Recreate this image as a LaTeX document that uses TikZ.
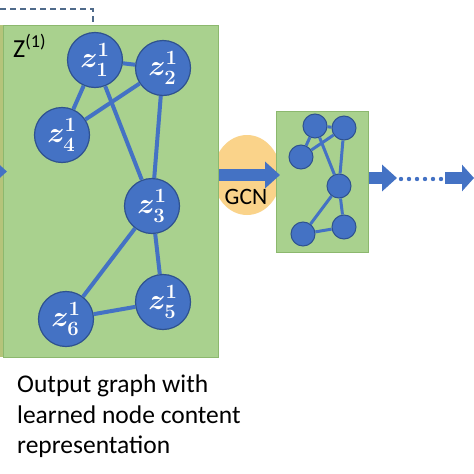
\RequirePackage{fix-cm}
\documentclass[tikz,border=0pt]{standalone}
\usepackage{fontspec}
\setmainfont{Carlito}
\usetikzlibrary{arrows.meta,shapes.geometric}
\definecolor{gfill}{HTML}{A9D18E}
\definecolor{gline}{HTML}{8CB86E}
\definecolor{nblue}{HTML}{4472C4}
\definecolor{nborder}{HTML}{2F528F}
\definecolor{orng}{HTML}{FAD38A}
\definecolor{dashc}{HTML}{4F6A8A}
\definecolor{edgeol}{HTML}{B5C47A}
\begin{document}
\begin{tikzpicture}[x=1pt,y=-1pt,
 bignode/.style={circle,fill=nblue,draw=nborder,line width=1.2pt,minimum size=55pt,inner sep=0pt,text=white,font=\fontsize{29}{29}\selectfont\boldmath},
 smallnode/.style={circle,fill=nblue,draw=nborder,line width=1pt,minimum size=24pt,inner sep=0pt},
 bigedge/.style={nblue,line width=4pt},
 smalledge/.style={nblue,line width=3pt},
 panel/.style={rectangle,fill=gfill,draw=gline,line width=1pt,inner sep=0pt,anchor=north west},
 fatarrow/.style={nblue,line width=12pt,-{Triangle[length=15pt,width=26pt]}},
 bodytext/.style={anchor=base west,inner sep=0pt,font=\fontsize{25.5}{25.5}\selectfont}]
\useasboundingbox (0,0) rectangle (474,474);
\clip (0,0) rectangle (474,474);
\fill[white] (0,0) rectangle (474,474);

% GCN background
\node[ellipse,fill=orng,minimum width=68pt,minimum height=80pt,inner sep=0pt] (gcnbg) at (247,175) {};

% panels
\fill[edgeol] (0,25) rectangle (3,357);
\node[panel,minimum width=215pt,minimum height=332pt] (main) at (3,25) {};
\node[panel,minimum width=92pt,minimum height=141pt] (small) at (276,111) {};

% dashed line
\coordinate (dstart) at (0,9);
\coordinate (dcorner) at (93,9);
\draw[dashc,line width=1.3pt,dash pattern=on 6pt off 4pt] (dstart) -- (dcorner) -- (dcorner |- main.north);

% left arrow entering
\coordinate (lin) at (-30,171.5);
\coordinate (ltip) at (7,171.5);
\draw[fatarrow] (lin) -- (ltip);

% label Z
\node[anchor=base west,inner sep=0pt,font=\fontsize{26}{26}\selectfont] (zlab) at (13,57) {Z\textsuperscript{(1)}};

% big graph nodes
\node[bignode] (z1) at (95,60) {$z^1_1$};
\node[bignode] (z2) at (163,68) {$z^1_2$};
\node[bignode] (z4) at (62,135) {$z^1_4$};
\node[bignode] (z3) at (152,206) {$z^1_3$};
\node[bignode] (z6) at (66,319) {$z^1_6$};
\node[bignode] (z5) at (163,302) {$z^1_5$};
\draw[bigedge] (z1) -- (z2);
\draw[bigedge] (z1) -- (z4);
\draw[bigedge] (z2) -- (z4);
\draw[bigedge] (z1) -- (z3);
\draw[bigedge] (z2) -- (z3);
\draw[bigedge] (z3) -- (z6);
\draw[bigedge] (z3) -- (z5);
\draw[bigedge] (z6) -- (z5);

% small graph nodes
\node[smallnode] (a1) at (315,126) {};
\node[smallnode] (a2) at (344,128) {};
\node[smallnode] (a4) at (301,157) {};
\node[smallnode] (a3) at (339,186) {};
\node[smallnode] (a6) at (303,234) {};
\node[smallnode] (a5) at (344,227) {};
\draw[smalledge] (a1) -- (a2);
\draw[smalledge] (a1) -- (a4);
\draw[smalledge] (a2) -- (a4);
\draw[smalledge] (a1) -- (a3);
\draw[smalledge] (a2) -- (a3);
\draw[smalledge] (a3) -- (a6);
\draw[smalledge] (a3) -- (a5);
\draw[smalledge] (a6) -- (a5);

% GCN arrow and label
\draw[fatarrow,shorten >=-4pt] (main.east |- gcnbg.center) -- (small.west |- gcnbg.center);
\node[inner sep=0pt,font=\fontsize{23.5}{23.5}\selectfont] (gcn) at (246,197) {GCN};

% outgoing arrows and dots
\coordinate (d2end) at (397,178);
\draw[fatarrow] (small.east |- d2end) -- (d2end);
\foreach \i in {0,...,5} {
  \fill[nblue] (401+8*\i,179) circle (2.2pt);
}
\coordinate (d3start) at (445,178);
\coordinate (d3end) at (474,178);
\draw[nblue,line width=12pt,-{Triangle[length=12pt,width=26pt]}] (d3start) -- (d3end);

% caption
\node[bodytext] (cap1) at (17,392) {Output graph with};
\node[bodytext] (cap2) at (17,423) {learned node content};
\node[bodytext] (cap3) at (17,453) {representation};
\end{tikzpicture}
\end{document}
